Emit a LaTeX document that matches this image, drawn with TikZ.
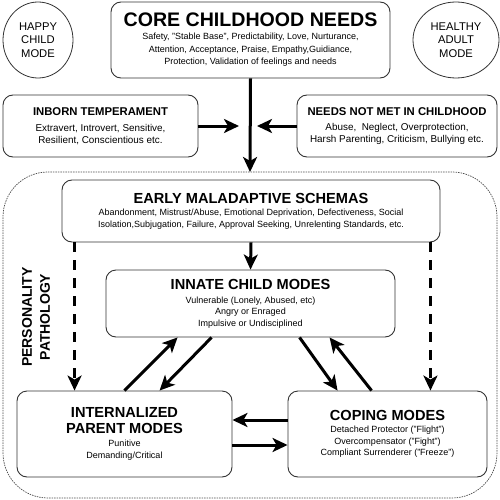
\documentclass[tikz,border=0pt]{standalone}
\usepackage{fontspec}
\setmainfont{Liberation Sans}
\usetikzlibrary{arrows.meta,shapes.geometric,calc}
\begin{document}
\begin{tikzpicture}[x=1pt,y=-1pt,
  box/.style={draw=black!80,line width=0.9pt,rounded corners=10pt,align=center,inner sep=0pt},
  oval/.style={draw=black!80,line width=0.8pt,ellipse,inner sep=0pt,align=center,font=\fontsize{11.2}{13.5}\selectfont},
  arr/.style={line width=3pt,-{Stealth[length=15pt,width=14pt,inset=4pt]}},
  darr/.style={arr,dash pattern=on 10pt off 8pt},
  outerbox/.style={draw=black!70,line width=0.7pt,dash pattern=on 1.5pt off 1pt,rounded corners=45pt,inner sep=0pt},
]
\useasboundingbox (0,0) rectangle (500,500);

\node[oval,minimum width=70pt,minimum height=76pt] (happy) at (38,40) {HAPPY\\CHILD\\MODE};
\node[oval,minimum width=86pt,minimum height=76pt] (healthy) at (456,40) {HEALTHY\\ADULT\\MODE};

\node[box,minimum width=279pt,minimum height=76pt,font=\fontsize{9}{12.5}\selectfont] (core) at (250.5,40)
 {{\fontsize{19.6}{20}\selectfont\bfseries CORE CHILDHOOD NEEDS}\\[0.5pt]
  Safety, "Stable Base", Predictability, Love, Nurturance,\\
  Attention, Acceptance, Praise, Empathy,Guidiance,\\
  Protection, Validation of feelings and needs};

\node[box,minimum width=195pt,minimum height=62pt,font=\fontsize{9.9}{12}\selectfont] (inborn) at (100.5,126)
 {{\fontsize{11.3}{12}\selectfont\bfseries INBORN TEMPERAMENT}\\[3.5pt]
  Extravert, Introvert, Sensitive,\\
  Resilient, Conscientious etc.};

\node[box,minimum width=200pt,minimum height=62pt,font=\fontsize{9.9}{12}\selectfont] (needs) at (397,126)
 {{\fontsize{11.3}{12}\selectfont\bfseries NEEDS NOT MET IN CHILDHOOD}\\[3.5pt]
  Abuse,\ \ Neglect, Overprotection,\\
  Harsh Parenting, Criticism, Bullying etc.};

\node[outerbox,minimum width=494pt,minimum height=326pt] (patharea) at (250,335) {};

\node[box,minimum width=378pt,minimum height=62pt,font=\fontsize{9}{12}\selectfont] (schemas) at (251,211)
 {{\fontsize{14.6}{15}\selectfont\bfseries EARLY MALADAPTIVE SCHEMAS}\\
  Abandonment, Mistrust/Abuse, Emotional Deprivation, Defectiveness, Social\\
  Isolation,Subjugation, Failure, Approval Seeking, Unrelenting Standards, etc.};

\node[box,minimum width=289pt,minimum height=67pt,font=\fontsize{9}{11.5}\selectfont] (innate) at (250.5,303.5)
 {{\fontsize{14.6}{15}\selectfont\bfseries INNATE CHILD MODES}\\[2.5pt]
  Vulnerable (Lonely, Abused, etc)\\
  Angry or Enraged\\
  Impulsive or Undisciplined};

\node[box,minimum width=215pt,minimum height=86pt,font=\fontsize{9}{12}\selectfont] (parent) at (124.5,434)
 {{\fontsize{14.6}{16}\selectfont\bfseries INTERNALIZED}\\[4pt]
  {\fontsize{14.6}{16}\selectfont\bfseries PARENT MODES}\\[1pt]
  Punitive\\
  Demanding/Critical};

\node[box,minimum width=199pt,minimum height=86pt,font=\fontsize{9}{11.5}\selectfont] (coping) at (387.5,434)
 {{\fontsize{14.6}{15}\selectfont\bfseries COPING MODES}\\[0.5pt]
  Detached Protector ("Flight")\\
  Overcompensator ("Fight")\\
  Compliant Surrenderer ("Freeze")};

\node[rotate=90,align=center,font=\fontsize{14}{18}\selectfont\bfseries] (patho) at (36,317) {PERSONALITY\\PATHOLOGY};

\coordinate (mainTip) at (250,172);
\coordinate (inbTip) at (239,126);
\coordinate (needsTip) at (257,126);

\draw[arr] (core.south) -- (mainTip);
\draw[arr] (inborn.east) -- (inbTip);
\draw[arr] (needs.west) -- (needsTip);
\draw[arr] (schemas.south) -- (innate.north);

\draw[darr] ([xshift=13pt]schemas.south west) -- ([xshift=13pt]schemas.south west |- parent.north);
\draw[darr] ([xshift=-10pt]schemas.south east) -- ([xshift=-10pt]schemas.south east |- coping.north);

\draw[arr] ([xshift=108pt]parent.north west) -- ([xshift=72pt]innate.south west);
\draw[arr] ([xshift=106pt]innate.south west) -- ([xshift=143pt]parent.north west);
\draw[arr] ([xshift=194pt]innate.south west) -- ([xshift=50pt]coping.north west);
\draw[arr] ([xshift=84pt]coping.north west) -- ([xshift=224pt]innate.south west);

\draw[arr] ([yshift=14pt]coping.west) -- ([yshift=14pt]parent.east);
\draw[arr] ([yshift=-11pt]parent.east) -- ([yshift=-11pt]coping.west);
\end{tikzpicture}
\end{document}
